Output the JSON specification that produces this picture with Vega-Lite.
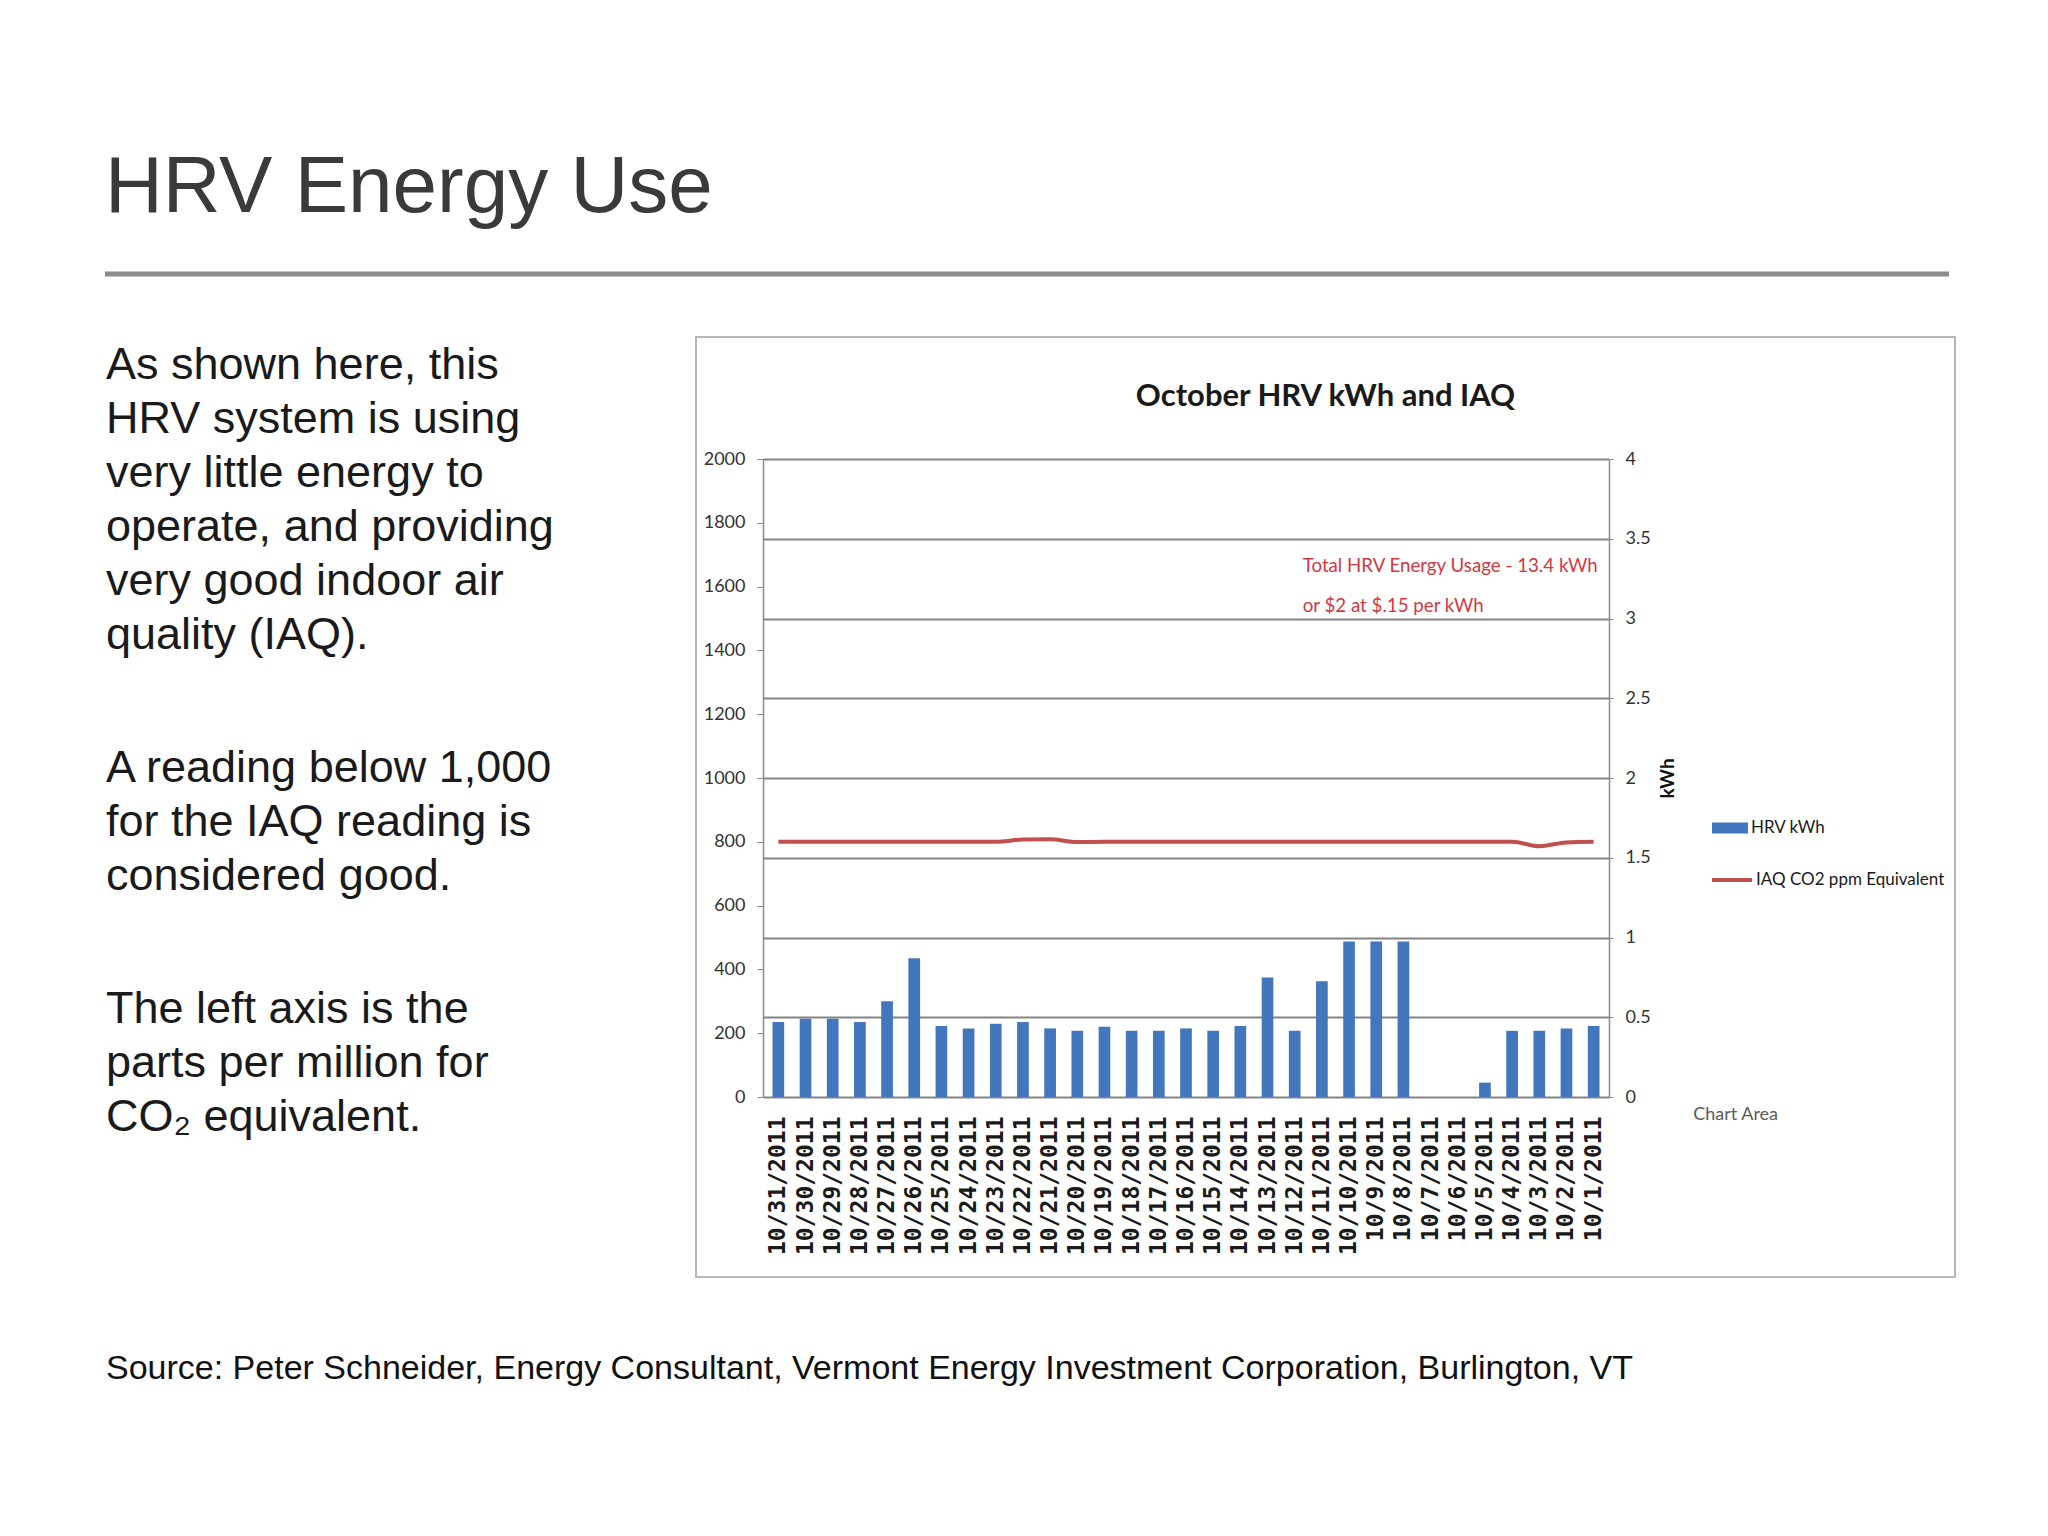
{
  "$schema": "https://vega.github.io/schema/vega-lite/v6.json",
  "background": "white",
  "padding": {"left": 102, "top": 148, "right": 10, "bottom": 10},
  "config": {
    "view": {"stroke": null},
    "font": "Liberation Sans"
  },
  "spacing": 57,
  "vconcat": [
    {
      "width": 1844,
      "height": 10,
      "title": {
        "text": "HRV Energy Use",
        "anchor": "start",
        "frame": "group",
        "baseline": "alphabetic",
        "offset": -23,
        "font": "Liberation Sans",
        "fontSize": 80,
        "fontWeight": "normal",
        "color": "#3a3a3a"
      },
      "data": {"values": [{}]},
      "mark": {"type": "rule", "color": "#8c8c8c", "strokeWidth": 5},
      "encoding": {
        "y": {"datum": 0.5, "type": "quantitative", "scale": {"domain": [0, 1]}, "axis": null}
      }
    },
    {
      "spacing": 50,
      "hconcat": [
        {
          "spacing": 79,
          "vconcat": [
            {
              "width": 540,
              "height": {"step": 54},
              "data": {"values": [
                {"line": 1, "text": "As shown here, this"},
                {"line": 2, "text": "HRV system is using"},
                {"line": 3, "text": "very little energy to"},
                {"line": 4, "text": "operate, and providing"},
                {"line": 5, "text": "very good indoor air"},
                {"line": 6, "text": "quality (IAQ)."}
              ]},
              "mark": {"type": "text", "align": "left", "baseline": "alphabetic", "dx": 1, "dy": 15, "font": "Liberation Sans", "fontSize": 45, "color": "#1a1a1a"},
              "encoding": {
                "x": {"value": 0},
                "y": {"field": "line", "type": "ordinal", "axis": null},
                "text": {"field": "text"}
              }
            },
            {
              "width": 540,
              "height": {"step": 54},
              "data": {"values": [
                {"line": 1, "text": "A reading below 1,000"},
                {"line": 2, "text": "for the IAQ reading is"},
                {"line": 3, "text": "considered good."}
              ]},
              "mark": {"type": "text", "align": "left", "baseline": "alphabetic", "dx": 1, "dy": 15, "font": "Liberation Sans", "fontSize": 45, "color": "#1a1a1a"},
              "encoding": {
                "x": {"value": 0},
                "y": {"field": "line", "type": "ordinal", "axis": null},
                "text": {"field": "text"}
              }
            },
            {
              "width": 540,
              "height": {"step": 54},
              "data": {"values": [
                {"line": 1, "text": "The left axis is the"},
                {"line": 2, "text": "parts per million for"},
                {"line": 3, "text": "CO₂ equivalent."}
              ]},
              "mark": {"type": "text", "align": "left", "baseline": "alphabetic", "dx": 1, "dy": 15, "font": "Liberation Sans", "fontSize": 45, "color": "#1a1a1a"},
              "encoding": {
                "x": {"value": 0},
                "y": {"field": "line", "type": "ordinal", "axis": null},
                "text": {"field": "text"}
              }
            }
          ]
        },
        {
          "width": 1259,
          "height": 940,
          "view": {"stroke": "#b8b8b8", "strokeWidth": 2},
          "title": {
            "text": "October HRV kWh and IAQ",
            "anchor": "middle",
            "frame": "group",
            "baseline": "alphabetic",
            "offset": -100,
            "font": "Lato",
            "fontSize": 31,
            "fontWeight": "bold",
            "color": "#1a1a1a"
          },
          "data": {"values": [
            {"date": "10/31/2011", "kwh": 0.47, "co2": 800},
            {"date": "10/30/2011", "kwh": 0.49, "co2": 800},
            {"date": "10/29/2011", "kwh": 0.49, "co2": 800},
            {"date": "10/28/2011", "kwh": 0.47, "co2": 800},
            {"date": "10/27/2011", "kwh": 0.6, "co2": 800},
            {"date": "10/26/2011", "kwh": 0.87, "co2": 800},
            {"date": "10/25/2011", "kwh": 0.445, "co2": 800},
            {"date": "10/24/2011", "kwh": 0.43, "co2": 800},
            {"date": "10/23/2011", "kwh": 0.46, "co2": 800},
            {"date": "10/22/2011", "kwh": 0.47, "co2": 807},
            {"date": "10/21/2011", "kwh": 0.43, "co2": 808},
            {"date": "10/20/2011", "kwh": 0.415, "co2": 799},
            {"date": "10/19/2011", "kwh": 0.44, "co2": 800},
            {"date": "10/18/2011", "kwh": 0.415, "co2": 800},
            {"date": "10/17/2011", "kwh": 0.415, "co2": 800},
            {"date": "10/16/2011", "kwh": 0.43, "co2": 800},
            {"date": "10/15/2011", "kwh": 0.415, "co2": 800},
            {"date": "10/14/2011", "kwh": 0.445, "co2": 800},
            {"date": "10/13/2011", "kwh": 0.75, "co2": 800},
            {"date": "10/12/2011", "kwh": 0.415, "co2": 800},
            {"date": "10/11/2011", "kwh": 0.725, "co2": 800},
            {"date": "10/10/2011", "kwh": 0.975, "co2": 800},
            {"date": "10/9/2011", "kwh": 0.975, "co2": 800},
            {"date": "10/8/2011", "kwh": 0.975, "co2": 800},
            {"date": "10/7/2011", "kwh": 0, "co2": 800},
            {"date": "10/6/2011", "kwh": 0, "co2": 800},
            {"date": "10/5/2011", "kwh": 0.09, "co2": 800},
            {"date": "10/4/2011", "kwh": 0.415, "co2": 800},
            {"date": "10/3/2011", "kwh": 0.415, "co2": 786},
            {"date": "10/2/2011", "kwh": 0.43, "co2": 798},
            {"date": "10/1/2011", "kwh": 0.445, "co2": 800}
          ]},
          "encoding": {
            "x": {
              "field": "date",
              "type": "nominal",
              "sort": null,
              "scale": {
                "domain": ["10/31/2011","10/30/2011","10/29/2011","10/28/2011","10/27/2011","10/26/2011","10/25/2011","10/24/2011","10/23/2011","10/22/2011","10/21/2011","10/20/2011","10/19/2011","10/18/2011","10/17/2011","10/16/2011","10/15/2011","10/14/2011","10/13/2011","10/12/2011","10/11/2011","10/10/2011","10/9/2011","10/8/2011","10/7/2011","10/6/2011","10/5/2011","10/4/2011","10/3/2011","10/2/2011","10/1/2011"],
                "range": [67, 913],
                "paddingInner": 0.57,
                "paddingOuter": 0.35
              },
              "axis": {
                "title": null,
                "orient": "bottom",
                "offset": -180,
                "labelAngle": -90,
                "labelFont": "DejaVu Sans Mono",
                "labelFontWeight": "bold",
                "labelFontSize": 23,
                "labelColor": "#1a1a1a",
                "labelPadding": 19,
                "ticks": false,
                "tickSize": 0,
                "domain": false,
                "grid": false
              }
            }
          },
          "layer": [
            {
              "mark": {"type": "bar"},
              "encoding": {
                "y": {
                  "field": "kwh",
                  "type": "quantitative",
                  "scale": {"domain": [0, 4], "range": [760, 122], "nice": false},
                  "axis": {
                    "orient": "right",
                    "offset": -346,
                    "values": [0, 0.5, 1, 1.5, 2, 2.5, 3, 3.5, 4],
                    "format": "~g",
                    "grid": false,
                    "domainColor": "#8a8a8a",
                    "domainWidth": 1.5,
                    "tickColor": "#8a8a8a",
                    "tickSize": 4,
                    "labelFont": "Lato",
                    "labelFontSize": 18,
                    "labelColor": "#333333",
                    "labelPadding": 12,
                    "title": "kWh",
                    "titleFont": "Lato",
                    "titleFontSize": 19,
                    "titleFontWeight": "bold",
                    "titleColor": "#111111",
                    "titleAngle": 270,
                    "titlePadding": 27
                  }
                },
                "color": {
                  "datum": "HRV kWh",
                  "type": "nominal",
                  "scale": {"range": ["#4277bd"]},
                  "legend": {
                    "orient": "none",
                    "legendX": 1607,
                    "legendY": 541,
                    "title": null,
                    "padding": 0,
                    "symbolType": "M-1,-0.3H1V0.3H-1Z",
                    "symbolSize": 1296,
                    "symbolStrokeWidth": 0,
                    "labelFont": "Lato",
                    "labelFontSize": 17,
                    "labelColor": "#1a1a1a",
                    "labelOffset": 3,
                    "labelLimit": 0
                  }
                }
              }
            },
            {
              "mark": {"type": "line", "strokeWidth": 4, "interpolate": "monotone"},
              "encoding": {
                "y": {
                  "field": "co2",
                  "type": "quantitative",
                  "scale": {"domain": [0, 2000], "range": [760, 122], "nice": false},
                  "axis": {
                    "orient": "left",
                    "offset": -67,
                    "values": [0, 200, 400, 600, 800, 1000, 1200, 1400, 1600, 1800, 2000],
                    "format": "d",
                    "grid": false,
                    "domainColor": "#8a8a8a",
                    "domainWidth": 1.5,
                    "tickColor": "#8a8a8a",
                    "tickSize": 6,
                    "labelFont": "Lato",
                    "labelFontSize": 18,
                    "labelColor": "#333333",
                    "labelPadding": 12,
                    "title": null
                  }
                },
                "stroke": {
                  "datum": "IAQ CO2 ppm Equivalent",
                  "type": "nominal",
                  "scale": {"range": ["#c0504d"]},
                  "legend": {
                    "orient": "none",
                    "legendX": 1605,
                    "legendY": 589,
                    "title": null,
                    "padding": 0,
                    "symbolType": "stroke",
                    "symbolSize": 1600,
                    "symbolStrokeWidth": 4,
                    "labelFont": "Lato",
                    "labelFontSize": 17,
                    "labelColor": "#1a1a1a",
                    "labelOffset": 2,
                    "labelLimit": 0
                  }
                }
              }
            },
            {
              "data": {"values": [{}]},
              "mark": {
                "type": "text",
                "text": ["Total HRV Energy Usage - 13.4 kWh", "or $2 at $.15 per kWh"],
                "align": "left",
                "baseline": "alphabetic",
                "dx": 8,
                "lineHeight": 40,
                "font": "Lato",
                "fontSize": 18.7,
                "color": "#d0393f"
              },
              "encoding": {
                "x": {"datum": "10/12/2011", "type": "nominal"},
                "y": {
                  "datum": 3.29,
                  "type": "quantitative",
                  "scale": {"domain": [0, 4], "range": [760, 122], "nice": false},
                  "axis": {
                    "orient": "left",
                    "offset": 0,
                    "values": [0, 0.5, 1, 1.5, 2, 2.5, 3, 3.5, 4],
                    "grid": true,
                    "gridColor": "#838383",
                    "gridWidth": 2,
                    "gridOpacity": 1,
                    "labels": false,
                    "ticks": false,
                    "domain": false,
                    "title": null
                  }
                }
              }
            },
            {
              "data": {"values": [{}]},
              "mark": {
                "type": "text",
                "text": "Chart Area",
                "align": "center",
                "baseline": "middle",
                "dx": 142,
                "dy": 18,
                "font": "Lato",
                "fontSize": 18,
                "color": "#595959"
              },
              "encoding": {
                "x": {"datum": "10/1/2011", "type": "nominal"},
                "y": {"datum": 0, "type": "quantitative", "scale": {"domain": [0, 4], "range": [760, 122], "nice": false}, "axis": null}
              }
            }
          ],
          "resolve": {"scale": {"y": "independent"}, "axis": {"y": "independent"}}
        }
      ]
    },
    {
      "width": 1844,
      "height": 88,
      "data": {"values": [{"text": "Source: Peter Schneider, Energy Consultant, Vermont Energy Investment Corporation, Burlington, VT"}]},
      "mark": {"type": "text", "align": "left", "baseline": "alphabetic", "dx": 1, "font": "Liberation Sans", "fontSize": 34, "color": "#111111"},
      "encoding": {
        "x": {"value": 0},
        "text": {"field": "text"}
      }
    }
  ]
}
